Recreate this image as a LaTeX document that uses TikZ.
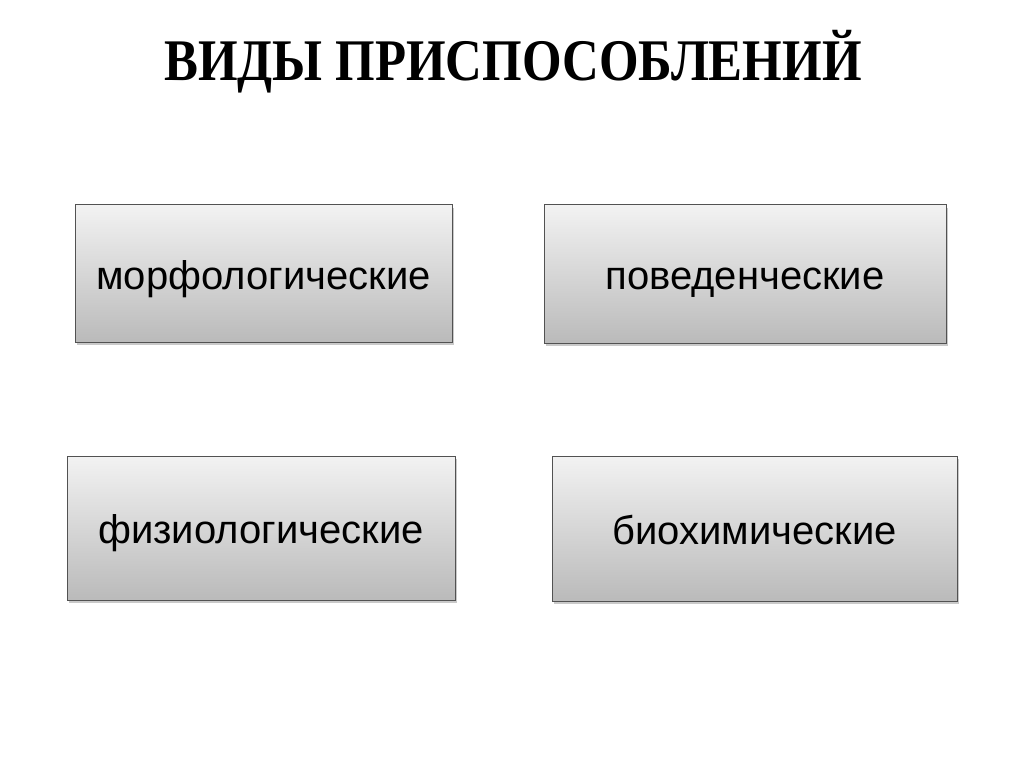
\documentclass[tikz,border=0pt]{standalone}
\usepackage{fontspec}
\usepackage{graphicx}
\newfontfamily\titlefont{Liberation Serif}
\newfontfamily\boxfont{Liberation Sans}
\usetikzlibrary{shadows}
\tikzset{
  kindbox/.style={draw=black!68, line width=1pt, rectangle,
    top color=black!5, bottom color=black!27,
    drop shadow={shadow xshift=2pt, shadow yshift=-3pt, opacity=0.35, fill=black!60},
    font=\boxfont\fontsize{40}{40}\selectfont, text=black, inner sep=0pt,
    text height=38pt, text depth=7pt},
}
\begin{document}
\begin{tikzpicture}[x=1pt,y=-1pt]
\useasboundingbox (0,0) rectangle (1024,767);
\fill[white] (0,0) rectangle (1024,767);
\node (title) at (513,62) {\resizebox{697pt}{\height}{\titlefont\bfseries\fontsize{59}{59}\selectfont ВИДЫ ПРИСПОСОБЛЕНИЙ}};
\node[kindbox, minimum width=377pt, minimum height=137pt] (morph) at (263.5,273.5) {морфологические};
\node[kindbox, minimum width=402pt, minimum height=138pt] (behav) at (745,274) {поведенческие};
\node[kindbox, minimum width=388pt, minimum height=144pt] (phys) at (261,528) {физиологические};
\node[kindbox, minimum width=405pt, minimum height=145pt] (bioch) at (754.5,528.5) {биохимические};
\end{tikzpicture}
\end{document}
